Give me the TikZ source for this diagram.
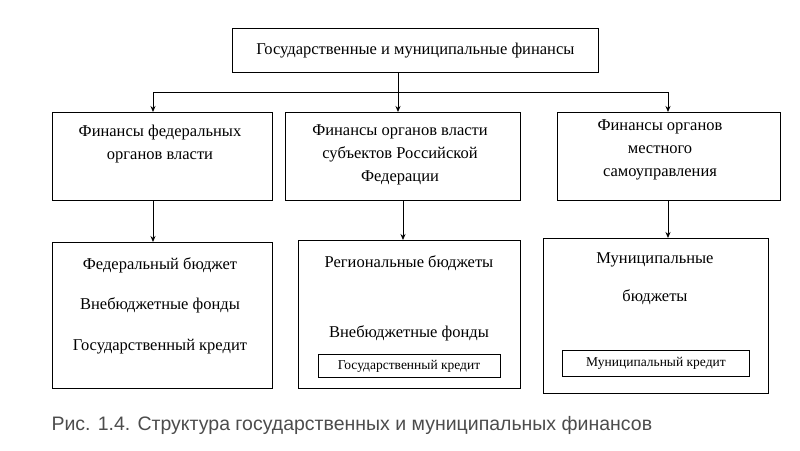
\documentclass[tikz,border=0pt]{standalone}
\usepackage{fontspec}
\setmainfont{Liberation Serif}
\newfontfamily\capfont{Liberation Sans}
\usetikzlibrary{arrows.meta}
\begin{document}
\begin{tikzpicture}[x=1pt,y=-1pt,
  box/.style={draw,line width=0.8pt,anchor=north west,inner sep=0pt},
  txt/.style={font=\fontsize{16.5}{23}\selectfont,align=center},
  small/.style={draw,line width=0.6pt,font=\fontsize{13.5}{15}\selectfont,minimum height=23pt,inner sep=0pt},
  arr/.style={-{Stealth[length=6pt,width=5pt]},line width=0.8pt}]
\useasboundingbox (0,0) rectangle (800,450);
\node[box,minimum width=366pt,minimum height=44pt,txt] (top) at (232,28) {Государственные и муниципальные финансы};
\node[box,minimum width=220pt,minimum height=88pt] (a) at (52,112) {};
\node[box,minimum width=235pt,minimum height=88pt] (b) at (285,112) {};
\node[box,minimum width=223pt,minimum height=88pt] (c) at (557,112) {};
\node[txt] (at) at (160,144) {Финансы федеральных\\органов власти};
\node[txt] (bt) at (400,155) {Финансы органов власти\\субъектов Российской\\Федерации};
\node[txt] (ct) at (660,150) {Финансы органов\\местного\\самоуправления};
\node[box,minimum width=220pt,minimum height=146pt] (d) at (52,242) {};
\node[box,minimum width=222pt,minimum height=148pt] (e) at (298,240) {};
\node[box,minimum width=225pt,minimum height=155pt] (f) at (543,238) {};
\node[txt] (d1) at (160,265) {Федеральный бюджет};
\node[txt] (d2) at (160,305) {Внебюджетные фонды};
\node[txt] (d3) at (160,347) {Государственный кредит};
\node[txt] (e1) at (409,263) {Региональные бюджеты};
\node[txt] (e2) at (409,333) {Внебюджетные фонды};
\node[small,minimum width=182pt] (e3) at (409,366) {Государственный кредит};
\node[txt] (f1) at (655,260) {Муниципальные};
\node[txt] (f2) at (655,297) {бюджеты};
\node[small,minimum width=187pt,minimum height=26pt] (f3) at (656,363) {Муниципальный кредит};
\coordinate (j) at (398,92);
\coordinate (jl) at (153,92);
\coordinate (jr) at (668,92);
\draw[line width=0.8pt] (top.south -| j) -- (j);
\draw[line width=0.8pt] (jl) -- (jr);
\draw[arr] (jl) -- (jl |- a.north);
\draw[arr] (j) -- (j |- b.north);
\draw[arr] (jr) -- (jr |- c.north);
\draw[arr] (a.south -| jl) -- (jl |- d.north);
\draw[arr] (403,200) -- (403,240);
\draw[arr] (c.south -| jr) -- (jr |- f.north);
\node[font=\capfont\fontsize{19.5}{22}\selectfont,text=black!70,anchor=west] (cap) at (48,425) {Рис. 1.4. Структура государственных и муниципальных финансов};
\end{tikzpicture}
\end{document}
